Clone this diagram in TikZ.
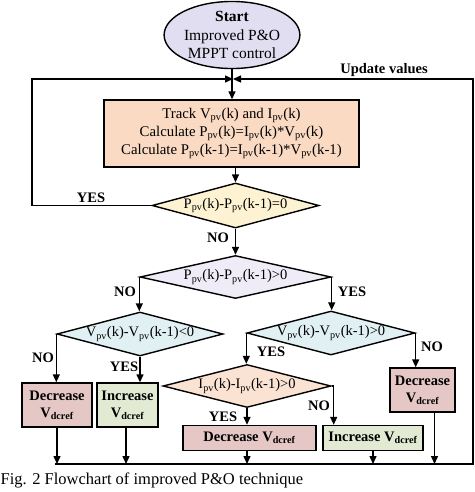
\documentclass[tikz,border=0pt]{standalone}
\usepackage{fontspec}
\setmainfont{Liberation Serif}
\usetikzlibrary{shapes.geometric,arrows.meta}
\newcommand\sbs[1]{\textsubscript{#1}}
\definecolor{cEll}{HTML}{E0DEF0}
\definecolor{cTrack}{HTML}{FADAC2}
\definecolor{cDa}{HTML}{FDF3D2}
\definecolor{cDb}{HTML}{EFECF7}
\definecolor{cDc}{HTML}{E0F0F3}
\definecolor{cDe}{HTML}{FBE3D3}
\definecolor{cDec}{HTML}{E5C8C6}
\definecolor{cInc}{HTML}{E2EAD4}
\begin{document}
\begin{tikzpicture}[x=1pt,y=-1pt,
  line width=1.4pt,
  every node/.style={font=\fontsize{14.5}{17}\selectfont},
  arr/.style={-{Triangle[length=8pt,width=7pt]}},
  dia/.style={draw,diamond,inner sep=0pt,shape aspect=3},
  box/.style={draw,rectangle,inner sep=0pt,align=center},
  lbl/.style={font=\fontsize{14.5}{17}\selectfont\bfseries,inner sep=0pt},
  boldbox/.style={box,font=\fontsize{14.5}{17}\selectfont\bfseries}
]
\useasboundingbox (0,0) rectangle (474,492);

% nodes
\node[draw,ellipse,fill=cEll,minimum width=113pt,minimum height=67pt,inner sep=0pt,align=center,
  font=\fontsize{15.5}{18.5}\selectfont] (start) at (232,35)
  {\textbf{Start}\\Improved P\&O\\MPPT control};
\node[box,fill=cTrack,minimum width=255pt,minimum height=67pt,
  font=\fontsize{14.8}{18}\selectfont] (track) at (231.5,133.5)
  {Track V\sbs{pv}(k) and I\sbs{pv}(k)\\
   Calculate P\sbs{pv}(k)=I\sbs{pv}(k)*V\sbs{pv}(k)\\
   Calculate P\sbs{pv}(k-1)=I\sbs{pv}(k-1)*V\sbs{pv}(k-1)};
\node[dia,fill=cDa,minimum width=167pt,minimum height=45pt,
  label={center:P\sbs{pv}(k)-P\sbs{pv}(k-1)=0}] (d1) at (235.5,205.5) {};
\node[dia,fill=cDb,minimum width=191pt,minimum height=43pt,
  label={center:P\sbs{pv}(k)-P\sbs{pv}(k-1)>0}] (d2) at (235.5,277) {};
\node[dia,fill=cDc,minimum width=166pt,minimum height=44pt,
  label={center:V\sbs{pv}(k)-V\sbs{pv}(k-1)<0}] (d3) at (140,334) {};
\node[dia,fill=cDc,minimum width=168pt,minimum height=44pt,
  label={center:V\sbs{pv}(k)-V\sbs{pv}(k-1)>0}] (d4) at (331,333) {};
\node[dia,fill=cDe,minimum width=168pt,minimum height=43pt,
  label={center:I\sbs{pv}(k)-I\sbs{pv}(k-1)>0}] (d5) at (247,386) {};

\node[boldbox,fill=cDec,minimum width=70pt,minimum height=44pt] (dec1) at (57,405) {Decrease\\V\sbs{dcref}};
\node[boldbox,fill=cInc,minimum width=61pt,minimum height=44pt] (inc1) at (127.5,405) {Increase\\V\sbs{dcref}};
\node[boldbox,fill=cDec,minimum width=133pt,minimum height=25pt] (dec2) at (249.5,438) {Decrease V\sbs{dcref}};
\node[boldbox,fill=cInc,minimum width=100pt,minimum height=25pt] (inc2) at (373,438) {Increase V\sbs{dcref}};
\node[boldbox,fill=cDec,minimum width=65pt,minimum height=44pt] (dec3) at (422.5,390) {Decrease\\V\sbs{dcref}};

% loop corners
\coordinate (mt) at (233,79);
\coordinate (tl) at (32,79);
\coordinate (tr) at (473,79);
\coordinate (bl) at (55,464);
\coordinate (br) at (473,464);

% connectors
\draw[arr] (start.south) -- (start.south |- track.north);
\draw[arr] (d1.north |- track.south) -- (d1.north);
\draw[arr] (d1.south) -- (d2.north);
\draw[arr] (d1.west) -- (d1.west -| tl) -- (tl) -- (mt);
\draw[arr] (bl) -- (br) -- (tr) -- (mt);
\draw[arr] (d2.west) -- (d2.west |- d3.north);
\draw[arr] (d2.east) -- (d2.east |- d4.north);
\draw[arr] (d3.west) -- (d3.west |- dec1.north);
\draw[arr] (d3.south) -- (d3.south |- inc1.north);
\draw[arr] (d4.west) -- (d4.west |- d5.north);
\draw[arr] (d4.east) -- (d4.east |- dec3.north);
\draw[arr] (d5.south) -- (d5.south |- dec2.north);
\draw[arr] (d5.east) -- ++(2,0) coordinate (d5r) -- (d5r |- inc2.north);
\draw[arr] (dec1.south) -- (dec1.south |- bl);
\draw[arr] ([xshift=-1.5pt]inc1.south) -- ([xshift=-1.5pt]inc1.south |- bl);
\draw[arr] ([xshift=-2.5pt]dec2.south) -- ([xshift=-2.5pt]dec2.south |- bl);
\draw[arr] (inc2.south) -- (inc2.south |- bl);
\draw[arr] ([xshift=12pt]dec3.south) -- ([xshift=12pt]dec3.south |- bl);

% labels
\node[lbl] (upd) at (384,70) {Update values};
\node[lbl] (y1) at (91,198) {YES};
\node[lbl] (n1) at (218,238) {NO};
\node[lbl] (n2) at (125,292) {NO};
\node[lbl] (y2) at (352,292) {YES};
\node[lbl] (n3) at (43,358) {NO};
\node[lbl] (y3) at (124,367) {YES};
\node[lbl] (y4) at (271,352) {YES};
\node[lbl] (n4) at (432,347) {NO};
\node[lbl] (y5) at (223,417) {YES};
\node[lbl] (n5) at (319,406) {NO};
\node[anchor=west,inner sep=0pt,font=\fontsize{16.5}{19}\selectfont] (cap) at (0,480) {Fig. 2 Flowchart of improved P\&O technique};
\end{tikzpicture}
\end{document}
